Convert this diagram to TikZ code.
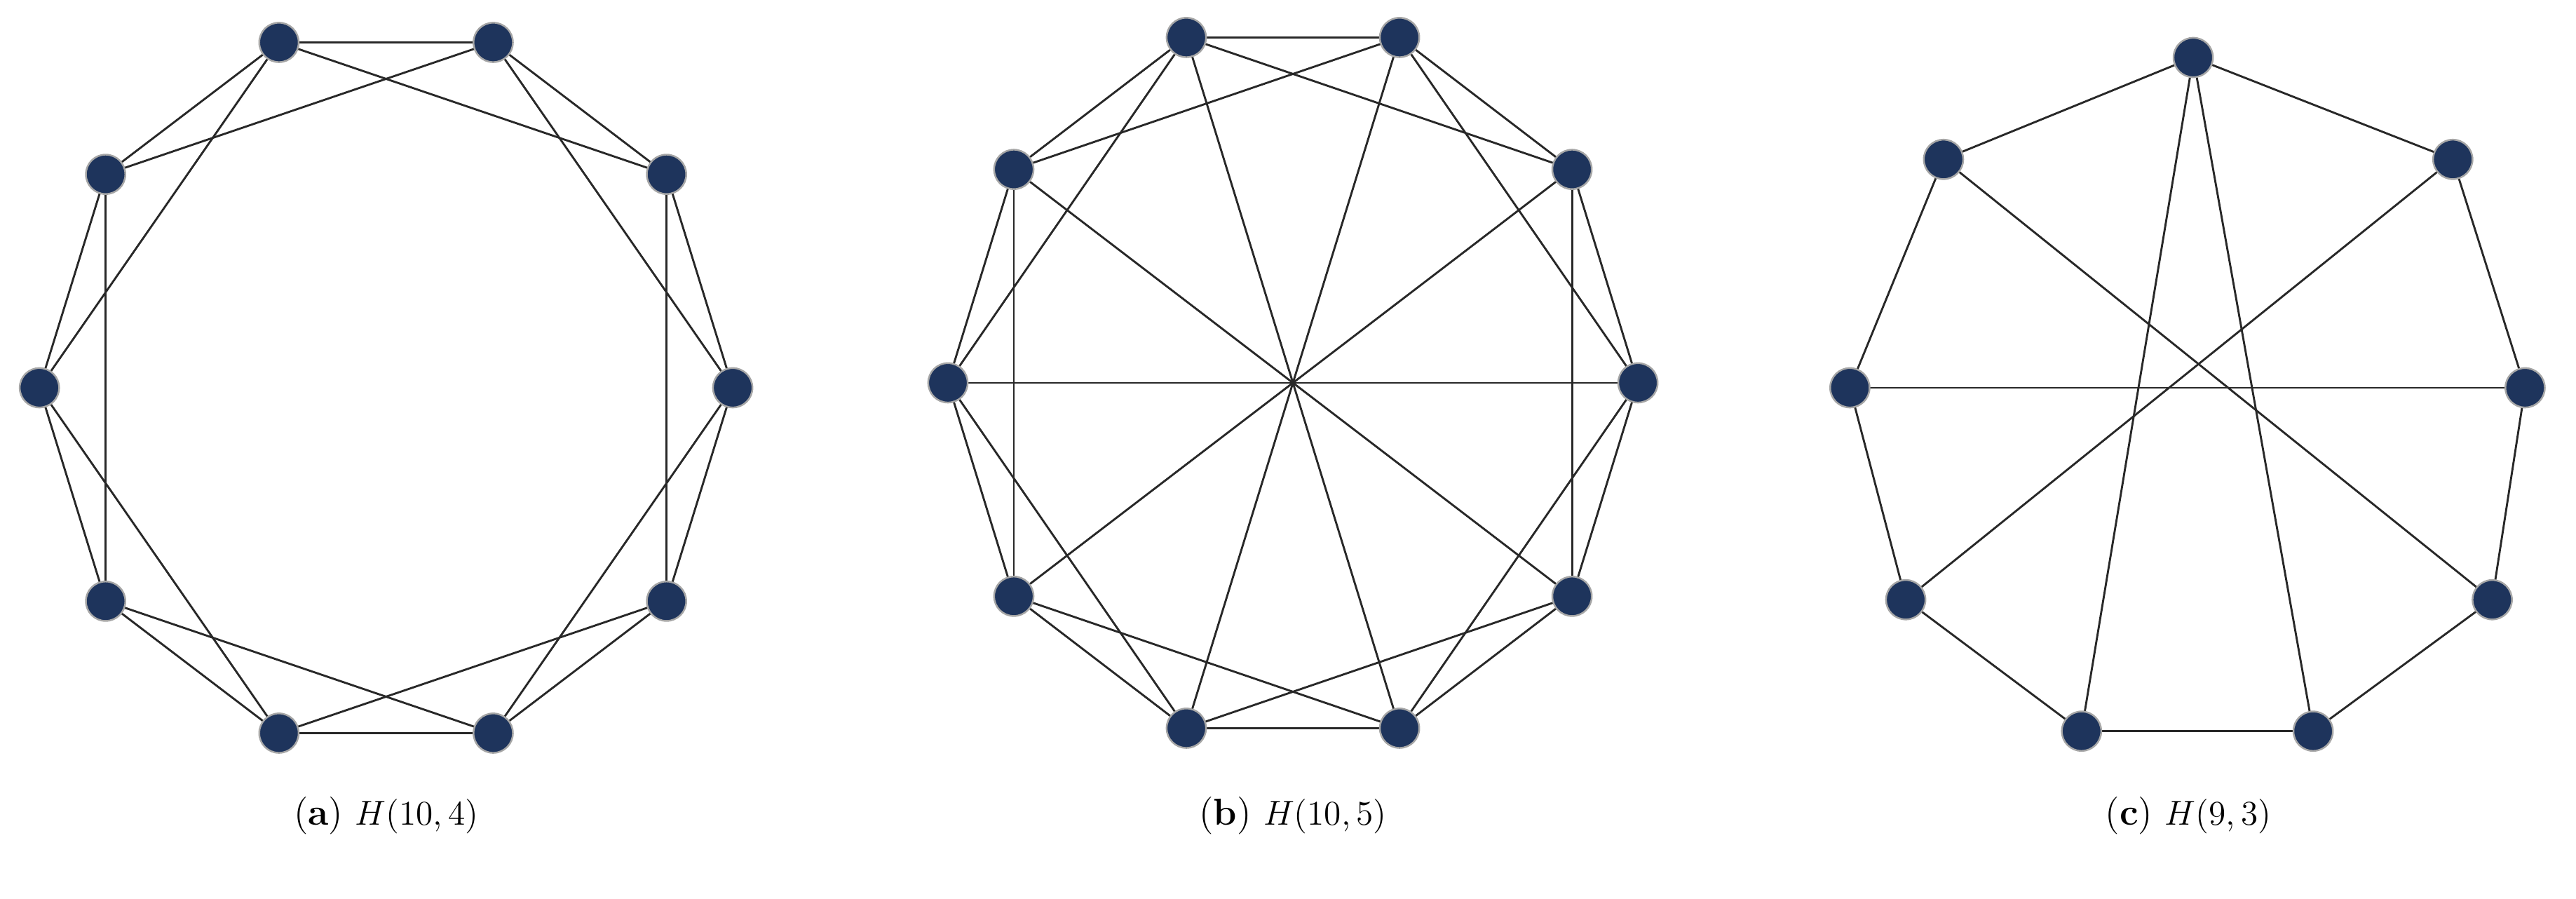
\documentclass[tikz,border=0pt]{standalone}
\definecolor{nodefill}{RGB}{30,52,92}
\definecolor{edgecol}{RGB}{40,40,40}
\tikzset{vtx/.style={circle,fill=nodefill,draw=gray!70,line width=0.6pt,minimum size=0.48cm,inner sep=0pt},
edge/.style={draw=edgecol,line width=0.7pt},
captxt/.style={font=\fontsize{13}{15}\selectfont,anchor=base}}
\begin{document}
\begin{tikzpicture}[x=0.02cm,y=-0.02cm]
\useasboundingbox (0,0) rectangle (1568,547);
% (a)
\foreach \k in {0,...,9}{\coordinate (a\k) at ({235+211*cos(72+36*\k)},{236-221*sin(72+36*\k)});}
\foreach \k in {0,...,9}{\pgfmathtruncatemacro\p{mod(\k+1,10)}\pgfmathtruncatemacro\q{mod(\k+2,10)}
 \draw[edge] (a\k)--(a\p); \draw[edge] (a\k)--(a\q);}
\foreach \k in {0,...,9}{\node[vtx] (A\k) at (a\k) {};}
% (b)
\foreach \k in {0,...,9}{\coordinate (b\k) at ({787+210*cos(72+36*\k)},{233-221*sin(72+36*\k)});}
\foreach \k in {0,...,9}{\pgfmathtruncatemacro\p{mod(\k+1,10)}\pgfmathtruncatemacro\q{mod(\k+2,10)}
 \draw[edge] (b\k)--(b\p); \draw[edge] (b\k)--(b\q);}
\foreach \k in {0,...,4}{\pgfmathtruncatemacro\r{\k+5}\draw[edge] (b\k)--(b\r);}
\foreach \k in {0,...,9}{\node[vtx] (B\k) at (b\k) {};}
% (c)
\coordinate (c0) at (1335,35); \coordinate (c1) at (1493,97); \coordinate (c2) at (1537,236);
\coordinate (c3) at (1517,365); \coordinate (c4) at (1408,445); \coordinate (c5) at (1267,445);
\coordinate (c6) at (1160,365); \coordinate (c7) at (1126,236); \coordinate (c8) at (1183,97);
\foreach \k in {0,...,8}{\pgfmathtruncatemacro\p{mod(\k+1,9)}\draw[edge] (c\k)--(c\p);}
\draw[edge] (c0)--(c4); \draw[edge] (c0)--(c5); \draw[edge] (c1)--(c6);
\draw[edge] (c8)--(c3); \draw[edge] (c2)--(c7);
\foreach \k in {0,...,8}{\node[vtx] (C\k) at (c\k) {};}
% captions
\node[captxt] (la) at (235,502) {(\textbf{a}) $H(10,4)$};
\node[captxt] (lb) at (787,502) {(\textbf{b}) $H(10,5)$};
\node[captxt] (lc) at (1332,502) {(\textbf{c}) $H(9,3)$};
\end{tikzpicture}
\end{document}
